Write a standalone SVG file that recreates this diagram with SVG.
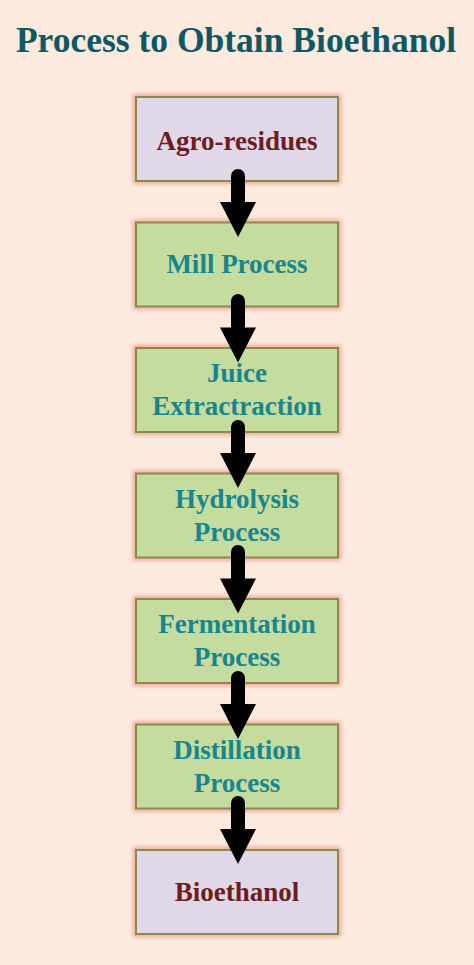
<svg xmlns="http://www.w3.org/2000/svg" width="474" height="965" viewBox="0 0 474 965">
<defs>
<filter id="glow" x="-10%" y="-20%" width="120%" height="140%">
<feMorphology in="SourceAlpha" operator="dilate" radius="2" result="d"/>
<feGaussianBlur in="d" stdDeviation="2" result="b"/>
<feFlood flood-color="#eea898"/>
<feComposite in2="b" operator="in" result="g"/>
<feMerge><feMergeNode in="g"/><feMergeNode in="SourceGraphic"/></feMerge>
</filter>
</defs>
<style>
.box{stroke:#8c8a4c;stroke-width:2;filter:url(#glow)}
.p{fill:#e0d8e8}
.g{fill:#c4dc9e}
.t{font-family:"Liberation Serif","Times New Roman",serif;font-weight:bold;font-size:27px;text-anchor:middle}
.tp{fill:#6e1c1c}
.tg{fill:#17868f}
.sh{stroke:#000;stroke-width:14;stroke-linecap:round;fill:none}
.hd{fill:#000}
</style>
<rect width="474" height="965" fill="#fdeadf"/>
<text x="236" y="52" font-family="&quot;Liberation Serif&quot;,&quot;Times New Roman&quot;,serif" font-weight="bold" font-size="35.5" fill="#0f5762" text-anchor="middle">Process to Obtain Bioethanol</text>
<g id="n1"><rect class="box p" x="136" y="97" width="202" height="84"/><text class="t tp" x="237" y="150">Agro-residues</text></g>
<g id="n2"><rect class="box g" x="136" y="222.5" width="202" height="84"/><text class="t tg" x="237" y="273">Mill Process</text></g>
<g id="n3"><rect class="box g" x="136" y="348" width="202" height="84"/><text class="t tg" x="237" y="382">Juice</text><text class="t tg" x="237" y="415">Extractraction</text></g>
<g id="n4"><rect class="box g" x="136" y="473.5" width="202" height="84"/><text class="t tg" x="237" y="507.5">Hydrolysis</text><text class="t tg" x="237" y="540.5">Process</text></g>
<g id="n5"><rect class="box g" x="136" y="599" width="202" height="84"/><text class="t tg" x="237" y="633">Fermentation</text><text class="t tg" x="237" y="666">Process</text></g>
<g id="n6"><rect class="box g" x="136" y="724.5" width="202" height="84"/><text class="t tg" x="237" y="758.5">Distillation</text><text class="t tg" x="237" y="791.5">Process</text></g>
<g id="n7"><rect class="box p" x="136" y="850" width="202" height="84"/><text class="t tp" x="237" y="901">Bioethanol</text></g>
<g id="connectors">
<line class="sh" x1="238" y1="176" x2="238" y2="206"/><path class="hd" d="M220,202 L256,202 L238,237 Z"/>
<line class="sh" x1="238" y1="301" x2="238" y2="332"/><path class="hd" d="M220,327.5 L256,327.5 L238,362.5 Z"/>
<line class="sh" x1="238" y1="427" x2="238" y2="457"/><path class="hd" d="M220,453 L256,453 L238,488 Z"/>
<line class="sh" x1="238" y1="552" x2="238" y2="583"/><path class="hd" d="M220,578.5 L256,578.5 L238,613.5 Z"/>
<line class="sh" x1="238" y1="678" x2="238" y2="708"/><path class="hd" d="M220,704 L256,704 L238,739 Z"/>
<line class="sh" x1="238" y1="803" x2="238" y2="834"/><path class="hd" d="M220,829 L256,829 L238,864 Z"/>
</g>
</svg>
